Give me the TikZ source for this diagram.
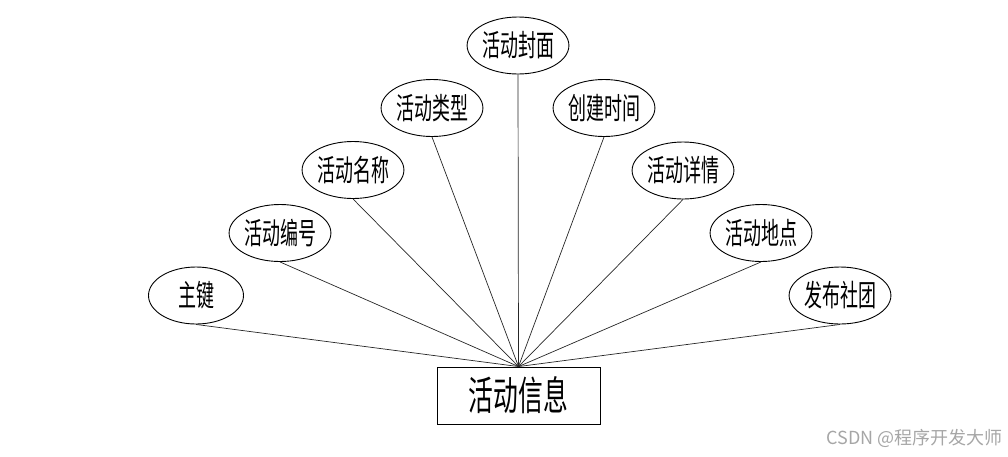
\documentclass[tikz,border=0pt]{standalone}
\usepackage{fontspec}
\newfontfamily\cjk[FakeStretch=0.6]{Noto Sans CJK SC}
\newfontfamily\cjkbig[FakeStretch=0.62]{Noto Sans CJK SC}
\newfontfamily\wm{Noto Sans CJK SC}
\usetikzlibrary{shapes.geometric}
\tikzset{
  attr/.style={ellipse, draw=black, line width=0.9pt, minimum width=95pt, minimum height=57pt, inner sep=0pt, font=\cjk\fontsize{30}{30}\selectfont},
  entity/.style={rectangle, draw=black, line width=0.9pt, minimum width=163pt, minimum height=57pt, inner sep=0pt, font=\cjkbig\fontsize{40}{40}\selectfont},
  link/.style={draw=black!85, line width=0.7pt}
}
\begin{document}
\begin{tikzpicture}[x=1pt,y=-1pt]
\useasboundingbox (0,0) rectangle (1008,456);
\node[entity] (e) at (518.5,395.5) {活动信息};
\node[attr] (a1) at (196,295.5) {主键};
\node[attr] (a2) at (280,233) {活动编号};
\node[attr] (a3) at (353,170) {活动名称};
\node[attr] (a4) at (432,108) {活动类型};
\node[attr] (a5) at (518,45.5) {活动封面};
\node[attr] (a6) at (604,108) {创建时间};
\node[attr] (a7) at (683,170.5) {活动详情};
\node[attr] (a8) at (761,233) {活动地点};
\node[attr] (a9) at (840,295.5) {发布社团};
\foreach \i in {1,...,9} { \draw[link] (a\i.south) -- (e.north); }
\node[anchor=east, text=black!35, font=\wm\fontsize{18}{18}\selectfont, inner sep=0pt] (wm) at (1003,438) {CSDN @程序开发大师};
\end{tikzpicture}
\end{document}
